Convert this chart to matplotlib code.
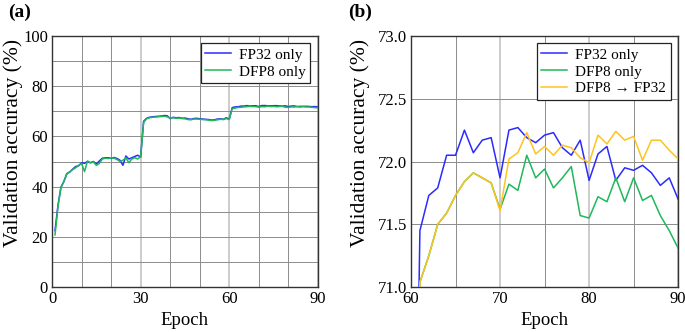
import numpy as np
import matplotlib
matplotlib.use('Agg')
import matplotlib.pyplot as plt
from matplotlib.ticker import MultipleLocator

plt.rcParams['font.family'] = ['Liberation Serif', 'DejaVu Serif']
plt.rcParams['mathtext.fontset'] = 'stix'

# Validation accuracy (%) per epoch, epochs 1..90
epochs = np.arange(1, 91)
fp32_only = [
    22.5, 32.5, 39.8, 42.0, 45.2, 45.8, 47.0, 48.0, 48.3, 49.5,
    49.3, 50.0, 49.5, 50.0, 49.0, 50.2, 51.3, 51.5, 51.5, 51.3,
    51.6, 51.2, 50.5, 48.5, 52.2, 51.0, 51.5, 52.0, 52.5, 51.8,
    66.0, 67.2, 67.6, 67.8, 67.9, 68.0, 68.1, 68.3, 68.2, 67.1,
    67.6, 67.4, 67.5, 67.2, 67.3, 67.0, 66.8, 67.1, 67.2, 67.0,
    66.9, 66.8, 66.7, 66.5, 66.6, 66.9, 67.0, 66.8, 67.4, 66.9,
    71.45, 71.73, 71.79, 72.05, 72.05, 72.25, 72.07, 72.17, 72.19, 71.87,
    72.25, 72.27, 72.19, 72.15, 72.21, 72.23, 72.11, 72.05, 72.17, 71.85,
    72.06, 72.12, 71.85, 71.95, 71.93, 71.97, 71.91, 71.81, 71.87, 71.70,
]
dfp8_only = [
    20.8, 32.0, 39.5, 42.2, 45.0, 46.0, 46.8, 47.5, 48.5, 49.2,
    46.0, 50.2, 49.5, 49.8, 48.5, 49.2, 51.0, 51.3, 51.2, 51.5,
    51.3, 50.8, 50.0, 50.5, 51.5, 49.5, 51.0, 51.5, 51.0, 52.0,
    65.5, 67.0, 67.4, 67.6, 67.7, 67.8, 67.9, 68.0, 67.8, 67.3,
    67.4, 67.2, 67.3, 67.1, 67.0, 66.7, 66.6, 66.9, 66.9, 66.8,
    66.7, 66.6, 66.5, 66.3, 66.4, 66.6, 66.8, 66.7, 67.1, 66.7,
    71.04, 71.25, 71.50, 71.59, 71.73, 71.84, 71.91, 71.87, 71.83, 71.62,
    71.82, 71.77, 72.05, 71.87, 71.94, 71.79, 71.87, 71.96, 71.57, 71.55,
    71.72, 71.68, 71.87, 71.68, 71.87, 71.69, 71.73, 71.57, 71.45, 71.31,
]
# DFP8 -> FP32: same as DFP8 until epoch 70, FP32 afterwards (epochs 60..90)
mixed_epochs = np.arange(60, 91)
dfp8_to_fp32 = [
    66.7,
    71.04, 71.25, 71.50, 71.59, 71.73, 71.84, 71.91, 71.87, 71.83, 71.61,
    72.02, 72.07, 72.23, 72.06, 72.12, 72.05, 72.13, 72.11, 72.03, 71.99,
    72.21, 72.14, 72.24, 72.17, 72.20, 72.01, 72.17, 72.17, 72.09, 72.02,
]

c_fp32 = '#2b2bff'
c_dfp8 = '#1fb85a'
c_mix = '#ffc31f'

fig = plt.figure(figsize=(6.85, 3.32), dpi=100)
ax1 = fig.add_axes([0.076, 0.135, 0.388, 0.757])
ax2 = fig.add_axes([0.600, 0.135, 0.390, 0.757])


def style_axes(ax, label_x):
    ax.grid(which='major', color='#c8c8c8', linewidth=1.3, zorder=0)
    ax.grid(which='minor', color='#8c8c8c', linewidth=0.7, zorder=0)
    ax.set_axisbelow(True)
    for s in ax.spines.values():
        s.set_color('#333333')
        s.set_linewidth(1.0)
    ax.tick_params(which='both', direction='in', length=0, labelsize=12, pad=3)
    ax.set_xlabel('Epoch', fontsize=13.5, labelpad=3)
    ax.set_ylabel('Validation accuracy (%)', fontsize=15.5)
    ax.yaxis.set_label_coords(label_x, 0.575)


def add_legend(ax):
    leg = ax.legend(loc='upper right', fontsize=11, fancybox=False, edgecolor='#222222',
                    framealpha=1, borderpad=0.3, labelspacing=0.2, handlelength=1.7,
                    handletextpad=0.5, borderaxespad=0.5)
    leg.get_frame().set_linewidth(0.9)


# (a) full training run
ax1.plot(epochs, fp32_only, color=c_fp32, lw=1.1, label='FP32 only', zorder=3)
ax1.plot(epochs, dfp8_only, color=c_dfp8, lw=1.1, label='DFP8 only', zorder=3)
ax1.set_xlim(0, 90)
ax1.set_ylim(0, 100)
ax1.xaxis.set_major_locator(MultipleLocator(30))
ax1.xaxis.set_minor_locator(MultipleLocator(10))
ax1.yaxis.set_major_locator(MultipleLocator(20))
ax1.yaxis.set_minor_locator(MultipleLocator(10))
style_axes(ax1, -0.11)
ax1.grid(which='major', axis='y', color='#8c8c8c', linewidth=0.7)
add_legend(ax1)

# (b) last 30 epochs
ax2.plot(epochs, fp32_only, color=c_fp32, lw=1.1, label='FP32 only', zorder=3)
ax2.plot(epochs, dfp8_only, color=c_dfp8, lw=1.1, label='DFP8 only', zorder=3)
ax2.plot(mixed_epochs, dfp8_to_fp32, color=c_mix, lw=1.1, label='DFP8 → FP32', zorder=4)
ax2.set_xlim(60, 90)
ax2.set_ylim(71, 73)
ax2.xaxis.set_major_locator(MultipleLocator(10))
ax2.xaxis.set_minor_locator(MultipleLocator(5))
ax2.yaxis.set_major_locator(MultipleLocator(0.5))
ax2.yaxis.set_major_formatter(matplotlib.ticker.FormatStrFormatter('%.1f'))
style_axes(ax2, -0.155)
ax2.grid(which='major', axis='y', color='#8c8c8c', linewidth=0.7)
add_legend(ax2)

fig.text(0.012, 0.988, '(a)', fontsize=14, fontweight='bold', va='top', ha='left')
fig.text(0.508, 0.988, '(b)', fontsize=14, fontweight='bold', va='top', ha='left')

fig.savefig('out.png', dpi=100)
